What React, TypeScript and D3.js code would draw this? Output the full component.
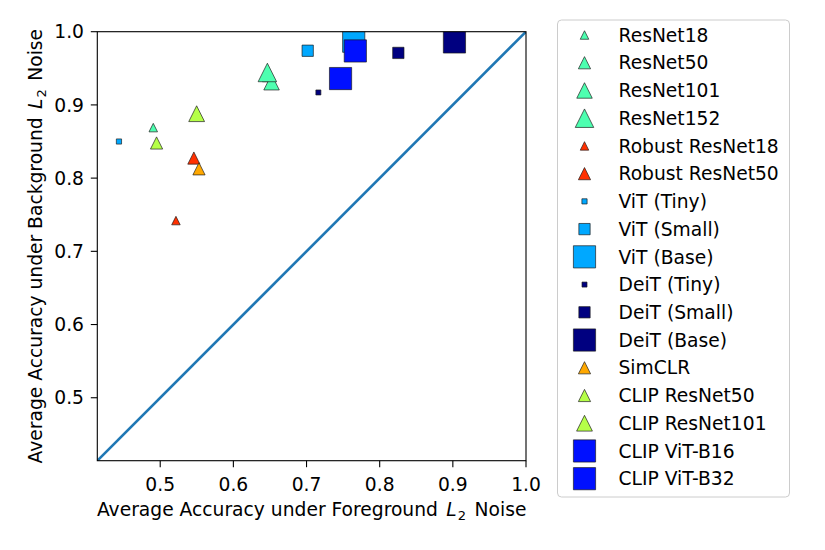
import React from "react";
import * as d3 from "d3";

// ---- data ----
const models = [
  "ResNet18", "ResNet50", "ResNet101", "ResNet152",
  "Robust ResNet18", "Robust ResNet50",
  "ViT (Tiny)", "ViT (Small)", "ViT (Base)",
  "DeiT (Tiny)", "DeiT (Small)", "DeiT (Base)",
  "SimCLR", "CLIP ResNet50", "CLIP ResNet101", "CLIP ViT-B16", "CLIP ViT-B32",
];
const foregroundAcc = [
  0.4905, 0.648, 0.6522, 0.6465,
  0.5215, 0.546,
  0.4436, 0.7016, 0.7645,
  0.7162, 0.8255, 0.9022,
  0.553, 0.495, 0.5498, 0.7465, 0.7667,
];
const backgroundAcc = [
  0.869, 0.940, 0.931, 0.9443,
  0.742, 0.8274,
  0.850, 0.974, 0.987,
  0.917, 0.971, 0.986,
  0.8127, 0.848, 0.888, 0.936, 0.9737,
];
const xTicks = [0.5, 0.6, 0.7, 0.8, 0.9, 1.0];
const yTicks = [0.5, 0.6, 0.7, 0.8, 0.9, 1.0];
const axisDomain = [0.414, 1.0];
const diagonal = [0.414, 1.0];

// ---- styles ----
const markerShapes = [
  "tri", "tri", "tri", "tri",
  "tri", "tri",
  "sq", "sq", "sq",
  "sq", "sq", "sq",
  "tri", "tri", "tri", "sq", "sq",
];
const markerSizes = [
  8.5, 12.2, 15.5, 18.5,
  8.5, 12.2,
  5.2, 11.3, 22.2,
  5.0, 11.3, 22.2,
  12.2, 12.2, 15.8, 22.2, 22.2,
];
const markerColors = [
  "#4dffb0", "#4dffb0", "#4dffb0", "#4dffb0",
  "#ff3000", "#ff3000",
  "#00a8ff", "#00a8ff", "#00a8ff",
  "#000080", "#000080", "#000080",
  "#ffa800", "#b5ff48", "#b5ff48", "#0010ff", "#0010ff",
];

const W = 825;
const H = 550;
const plotL = 97.3;
const plotR = 526;
const plotT = 31.7;
const plotB = 460.7;
const FONT = "'DejaVu Sans', sans-serif";
const FS = 18.7;

function markerPath(shape: string, s: number) {
  const h = s / 2;
  if (shape === "tri") return `M0,${-h}L${-h},${h}L${h},${h}Z`;
  return `M${-h},${-h}H${h}V${h}H${-h}Z`;
}

function MathLabel({ prefix }: { prefix: string }) {
  return (
    <>
      {prefix}
      <tspan dx={2.5} fontStyle="italic">L</tspan>
      <tspan dx={1} fontSize={FS * 0.7} dy={3.5}>2</tspan>
      <tspan dx={2.5} dy={-3.5}> Noise</tspan>
    </>
  );
}

export default function App() {
  const x = d3.scaleLinear().domain(axisDomain).range([plotL, plotR]);
  const y = d3.scaleLinear().domain(axisDomain).range([plotB, plotT]);
  const fmt = d3.format(".1f");

  const legL = 557.5;
  const legT = 20;
  const legW = 232;
  const legH = 477;
  const row0 = 35;
  const rowStep = 27.73;

  return (
    <div style={{ position: "fixed", left: 0, top: 0 }}>
      <svg width={W} height={H} style={{ display: "block", background: "#fff" }} fontFamily={FONT}>
        <defs>
          <clipPath id="plotclip">
            <rect x={plotL} y={plotT} width={plotR - plotL} height={plotB - plotT} />
          </clipPath>
        </defs>
        <g clipPath="url(#plotclip)">
          <line
            x1={x(diagonal[0])}
            y1={y(diagonal[0])}
            x2={x(diagonal[1])}
            y2={y(diagonal[1])}
            stroke="#1f77b4"
            strokeWidth={2.6}
          />
          {models.map((m, i) => (
            <path
              key={m}
              d={markerPath(markerShapes[i], markerSizes[i])}
              transform={`translate(${x(foregroundAcc[i])},${y(backgroundAcc[i])})`}
              fill={markerColors[i]}
              stroke="#1a1a1a"
              strokeOpacity={0.75}
              strokeWidth={0.9}
            />
          ))}
        </g>
        {/* spines */}
        <rect x={plotL} y={plotT} width={plotR - plotL} height={plotB - plotT} fill="none" stroke="#000" strokeWidth={1.1} />
        {/* x ticks */}
        {xTicks.map((t) => (
          <g key={"x" + t}>
            <line x1={x(t)} x2={x(t)} y1={plotB} y2={plotB + 6.5} stroke="#000" strokeWidth={1.1} />
            <text x={x(t)} y={490.5} textAnchor="middle" fontSize={FS} fill="#000">
              {fmt(t)}
            </text>
          </g>
        ))}
        {/* y ticks */}
        {yTicks.map((t) => (
          <g key={"y" + t}>
            <line x1={plotL - 6.5} x2={plotL} y1={y(t)} y2={y(t)} stroke="#000" strokeWidth={1.1} />
            <text x={84} y={y(t) + 6.7} textAnchor="end" fontSize={FS} fill="#000">
              {fmt(t)}
            </text>
          </g>
        ))}
        {/* x label */}
        <text x={(plotL + plotR) / 2} y={516} textAnchor="middle" fontSize={FS} fill="#000">
          <MathLabel prefix="Average Accuracy under Foreground " />
        </text>
        {/* y label */}
        <text
          transform={`translate(42,${(plotT + plotB) / 2}) rotate(-90)`}
          textAnchor="middle"
          fontSize={FS}
          fill="#000"
        >
          <MathLabel prefix="Average Accuracy under Background " />
        </text>
        {/* legend */}
        <rect x={legL} y={legT} width={legW} height={legH} rx={4} ry={4} fill="#fff" fillOpacity={0.8} stroke="#cccccc" strokeWidth={1} />
        {models.map((m, i) => {
          const cy = row0 + i * rowStep;
          return (
            <g key={"leg" + m}>
              <path
                d={markerPath(markerShapes[i], markerSizes[i])}
                transform={`translate(584.5,${cy})`}
                fill={markerColors[i]}
                stroke="#1a1a1a"
                strokeOpacity={0.75}
                strokeWidth={0.9}
              />
              <text x={618.5} y={cy + 6.7} fontSize={FS} fill="#000">
                {m}
              </text>
            </g>
          );
        })}
      </svg>
    </div>
  );
}
